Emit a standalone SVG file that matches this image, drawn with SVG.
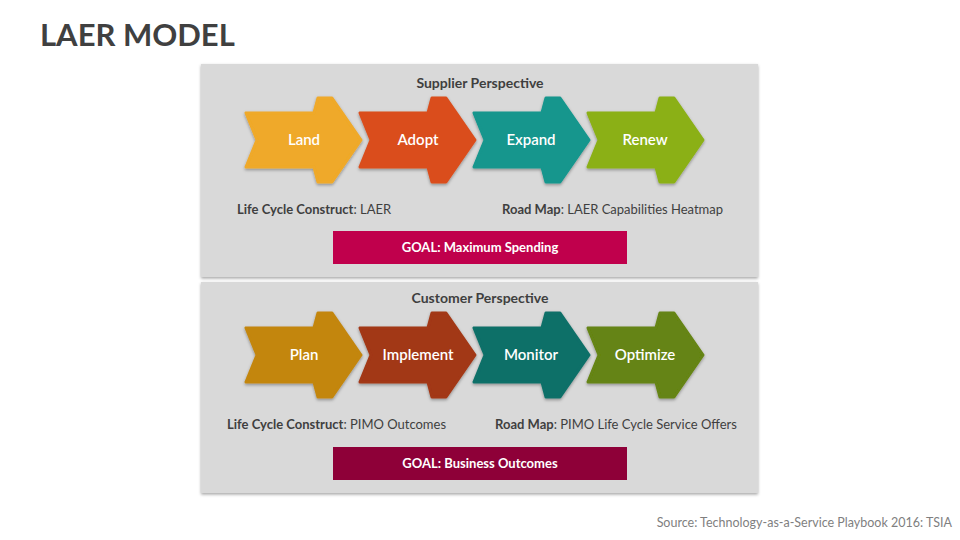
<svg xmlns="http://www.w3.org/2000/svg" width="960" height="540" viewBox="0 0 960 540">
<style>
text{font-family:Lato,"Open Sans","Liberation Sans",sans-serif}
.t{fill:#3f3f3f;font-size:14px;font-weight:bold}
.a{fill:#fff;font-size:15px;font-weight:600;text-anchor:middle}
.l{fill:#3f3f3f;font-size:13px}
.g{fill:#fff;font-size:13px;font-weight:bold;text-anchor:middle}
.p{fill:#d9d9d9}
</style>
<defs>
<filter id="sh" x="-10%" y="-10%" width="120%" height="130%"><feDropShadow dx="0" dy="1.5" stdDeviation="1.5" flood-color="#000" flood-opacity="0.35"/></filter>
<path id="arr" d="M0,-27 L68,-27 L72,-42 L86,-42 L115,0 L86,42 L72,42 L68,27 L0,27 L11,0 Z" stroke-linejoin="round" stroke-width="3"/>
</defs>
<rect width="960" height="540" fill="#fff"/>
<text x="40" y="46" font-size="31" font-weight="bold" fill="#404040">LAER MODEL</text>
<g id="supplier">
<rect class="p" x="201" y="64" width="557" height="213" filter="url(#sh)"/>
<text class="t" x="480" y="88" text-anchor="middle">Supplier Perspective</text>
<g id="land"><use href="#arr" x="246" y="140" fill="#EFA929" stroke="#EFA929" filter="url(#sh)"/><text class="a" x="304" y="145">Land</text></g>
<g id="adopt"><use href="#arr" x="360" y="140" fill="#DA4E1C" stroke="#DA4E1C" filter="url(#sh)"/><text class="a" x="418" y="145">Adopt</text></g>
<g id="expand"><use href="#arr" x="474" y="140" fill="#13968D" stroke="#13968D" filter="url(#sh)"/><text class="a" x="531" y="145">Expand</text></g>
<g id="renew"><use href="#arr" x="588" y="140" fill="#8BB016" stroke="#8BB016" filter="url(#sh)"/><text class="a" x="645" y="145">Renew</text></g>
<text class="l" x="237" y="214"><tspan font-weight="bold">Life Cycle Construct</tspan>: LAER</text>
<text class="l" x="502" y="214"><tspan font-weight="bold">Road Map</tspan>: LAER Capabilities Heatmap</text>
<g id="goal1"><rect x="333" y="231" width="294" height="33" fill="#C0004C"/><text class="g" x="480" y="252">GOAL: Maximum Spending</text></g>
</g>
<g id="customer">
<rect class="p" x="201" y="282" width="557" height="211" filter="url(#sh)"/>
<text class="t" x="480" y="303" text-anchor="middle">Customer Perspective</text>
<g id="plan"><use href="#arr" x="246" y="355" fill="#C3860F" stroke="#C3860F" filter="url(#sh)"/><text class="a" x="304" y="360">Plan</text></g>
<g id="implement"><use href="#arr" x="360" y="355" fill="#A23714" stroke="#A23714" filter="url(#sh)"/><text class="a" x="418" y="360">Implement</text></g>
<g id="monitor"><use href="#arr" x="474" y="355" fill="#0F6F68" stroke="#0F6F68" filter="url(#sh)"/><text class="a" x="531" y="360">Monitor</text></g>
<g id="optimize"><use href="#arr" x="588" y="355" fill="#658412" stroke="#658412" filter="url(#sh)"/><text class="a" x="645" y="360">Optimize</text></g>
<text class="l" x="227" y="429"><tspan font-weight="bold">Life Cycle Construct</tspan>: PIMO Outcomes</text>
<text class="l" x="495" y="429"><tspan font-weight="bold">Road Map</tspan>: PIMO Life Cycle Service Offers</text>
<g id="goal2"><rect x="333" y="447" width="294" height="33" fill="#8E0038"/><text class="g" x="480" y="468">GOAL: Business Outcomes</text></g>
</g>
<g id="connectors"/>
<text x="952" y="527" font-size="12.5" fill="#7f7f7f" text-anchor="end">Source: Technology-as-a-Service Playbook 2016: TSIA</text>
</svg>
